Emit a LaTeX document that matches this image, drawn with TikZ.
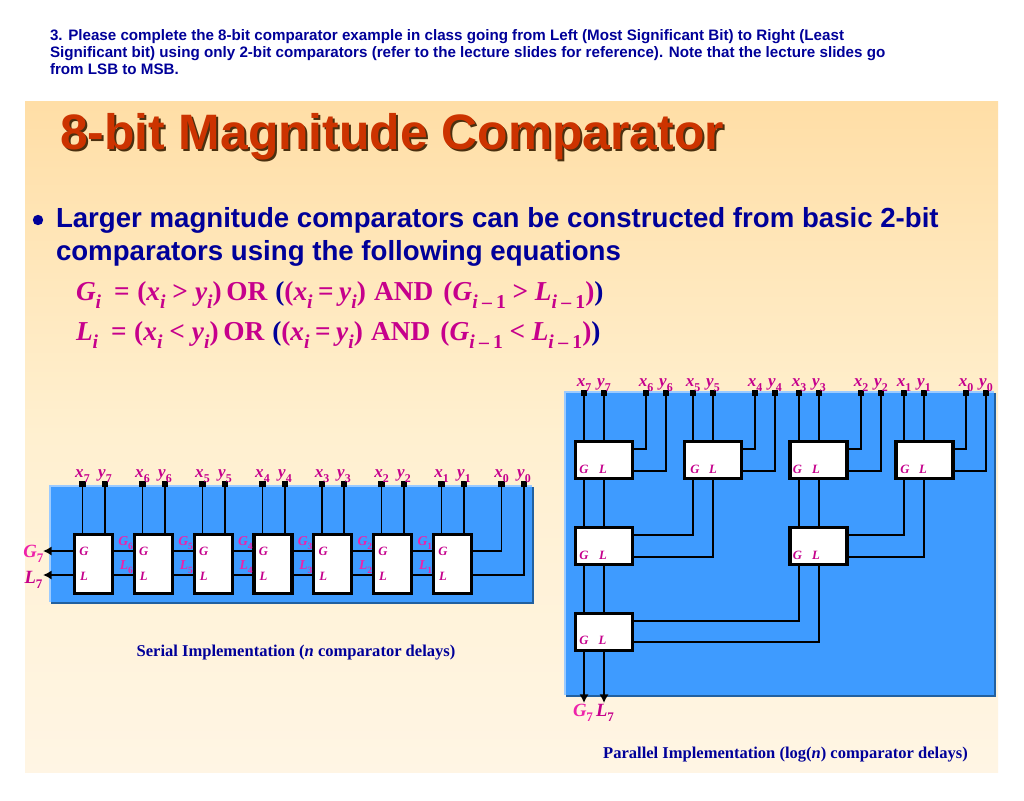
\documentclass[tikz,border=0pt]{standalone}
\usepackage{fontspec}
\setmainfont{Liberation Serif}
\setsansfont{Liberation Sans}
\usetikzlibrary{arrows.meta,shadings}
\definecolor{navy}{HTML}{000099}
\definecolor{mag}{HTML}{C6008C}
\definecolor{lmag}{HTML}{EE22AA}
\definecolor{panel}{HTML}{3E9BFF}
\definecolor{panelsh}{HTML}{22609F}
\definecolor{panellt}{HTML}{9CCBFF}
\definecolor{ttl}{HTML}{CC3300}
\definecolor{ttlsh}{HTML}{4A3010}
\definecolor{bgtop}{HTML}{FFDEA6}
\definecolor{bgmid}{HTML}{FFF0D0}
\definecolor{bgbot}{HTML}{FFF5E4}
\newcommand\sbx[1]{\raisebox{-.3em}{\scalebox{.7}{\upshape #1}}}
\newcommand\sbe[1]{\raisebox{-.3em}{\scalebox{.72}{#1}}}
\newcommand\fs[1]{\fontsize{#1}{#1}\selectfont}
\tikzset{
  x=0.75pt,y=-0.75pt,
  sertxt/.style={inner sep=0,outer sep=0,font=\bfseries\itshape,text=mag},
  pinlab/.style={sertxt,anchor=base,font=\fs{12.8}\bfseries\itshape},
  boxlab/.style={sertxt,font=\fs{9.5}\bfseries\itshape},
  midlab/.style={sertxt,text=lmag,font=\fs{10.2}\bfseries\itshape},
  outlab/.style={sertxt,font=\fs{14}\bfseries\itshape},
  pinbox/.style={fill=black,draw=none,minimum size=5.2pt,inner sep=0,outer sep=0},
  sbox/.style={draw=black,fill=white,line width=2.6pt,minimum width=28.5pt,minimum height=44pt,inner sep=0,outer sep=0},
  pbox/.style={draw=black,fill=white,line width=2.6pt,minimum width=43pt,minimum height=28pt,inner sep=0,outer sep=0},
  wire/.style={draw=black,line width=1.3pt},
  outwire/.style={wire,-{Latex[length=6.5pt,width=7pt]}},
  txt/.style={inner sep=0,outer sep=0,anchor=base west},
}
\begin{document}
\begin{tikzpicture}
\useasboundingbox (0,0) rectangle (1024,800);
\fill[white] (0,0) rectangle (1024,800);
% slide background
\shade[top color=bgtop,bottom color=bgbot,middle color=bgmid] (25,101) rectangle (998,772);
% question
\node[txt,font=\sffamily\bfseries\fs{11.37},text=navy] (q1) at (50,40) {3. Please complete the 8-bit comparator example in class going from Left (Most Significant Bit) to Right (Least};
\node[txt,font=\sffamily\bfseries\fs{11.37},text=navy] (q2) at (50,57) {Significant bit) using only 2-bit comparators (refer to the lecture slides for reference). Note that the lecture slides go};
\node[txt,font=\sffamily\bfseries\fs{11.37},text=navy] (q3) at (50,74) {from LSB to MSB.};
% title
\node[txt,font=\sffamily\bfseries\fs{37.35},text=ttlsh] (ts) at (62,151.3) {8-bit Magnitude Comparator};
\node[txt,font=\sffamily\bfseries\fs{37.35},text=ttl] (t) at (60,149.3) {8-bit Magnitude Comparator};
% bullet
\fill[navy] (38,220) circle[radius=3.9pt];
\node[txt,font=\sffamily\bfseries\fs{20.72},text=navy] (b1) at (56,227) {Larger magnitude comparators can be constructed from basic 2-bit};
\node[txt,font=\sffamily\bfseries\fs{20.72},text=navy] (b2) at (56,260) {comparators using the following equations};
% equations
\newcommand\imo{\textit{i}\hspace{.22em}{\upshape –}\hspace{.22em}{\upshape 1}}
\newcommand\eqn[2]{\textit{#1}\sbe{\textit{i}}\hspace{0.47em}=\hspace{0.28em}(\textit{x}\sbe{\textit{i}}\hspace{.255em}#2\hspace{.255em}\textit{y}\sbe{\textit{i}})\,OR\hspace{.29em}\textcolor{navy}{(}(\textit{x}\sbe{\textit{i}}\hspace{.2em}=\hspace{.2em}\textit{y}\sbe{\textit{i}})\hspace{.3em}AND\hspace{.37em}(\textit{G}\sbe{\imo}\hspace{.24em}#2\hspace{.24em}\textit{L}\sbe{\imo})\textcolor{navy}{)}}
\node[txt,font=\bfseries\fs{20.5},text=mag] (e1) at (76,300) {\eqn{G}{>}};
\node[txt,font=\bfseries\fs{20.5},text=mag] (e2) at (76,340) {\eqn{L}{<}};
% ---------- serial ----------
\fill[panelsh] (51,487) rectangle (534,604);
\fill[panellt] (49,485) rectangle (532,602);
\fill[panel] (50.5,486.5) rectangle (532,602);
\coordinate (gy) at (0,551);
\coordinate (ly) at (0,575);
\foreach \n/\c/\bi/\bx/\by in {1/93.5/7/82.5/105,2/153.3/6/142.5/165,3/213.3/5/202.5/225,4/273/4/262.5/285,5/332.7/3/322/344,6/392.5/2/381.5/404,7/452.5/1/441.5/464}{
  \node[sbox] (s\n) at (\c,564) {};
  \node[pinbox] (sx\bi) at (\bx,484) {};
  \node[pinbox] (sy\bi) at (\by,484) {};
  \draw[wire] (sx\bi) -- (sx\bi |- s\n.north);
  \draw[wire] (sy\bi) -- (sy\bi |- s\n.north);
  \node[boxlab] (sg\n) at (\c-9.5,551.5) {G};
  \node[boxlab] (sl\n) at (\c-9.5,576) {L};
  \node[pinlab] (slx\bi) at (\bx,477.5) {x\sbx{\bi}};
  \node[pinlab] (sly\bi) at (\by,477.5) {y\sbx{\bi}};
}
\node[pinbox] (sx0) at (501.5,484) {};
\node[pinbox] (sy0) at (524,484) {};
\node[pinlab] (slx0) at (501.5,477.5) {x\sbx{0}};
\node[pinlab] (sly0) at (524,477.5) {y\sbx{0}};
\foreach \a/\b/\k in {1/2/6,2/3/5,3/4/4,4/5/3,5/6/2,6/7/1}{
  \draw[wire] (s\a.east |- gy) -- (s\b.west |- gy);
  \draw[wire] (s\a.east |- ly) -- (s\b.west |- ly);
  \coordinate (mg) at (0,543);
  \coordinate (ml) at (0,567);
  \node[midlab,anchor=east,xshift=-1pt] (smg\k) at (s\b.west |- mg) {G\sbx{\k}};
  \node[midlab,anchor=east,xshift=-1pt] (sml\k) at (s\b.west |- ml) {L\sbx{\k}};
}
\draw[wire] (s7.east |- gy) -| (sx0);
\draw[wire] (s7.east |- ly) -| (sy0);
\coordinate (og) at (43,551);
\coordinate (ol) at (43,575);
\draw[outwire] (s1.west |- gy) -- (og);
\draw[outwire] (s1.west |- ly) -- (ol);
\node[outlab,text=lmag] (og7) at (33.5,554) {G\sbx{7}};
\node[outlab] (ol7) at (33.5,580) {L\sbx{7}};
\node[txt,anchor=base,font=\bfseries\fs{12.4},text=navy] (c1) at (296,656) {Serial Implementation (\textit{n} comparator delays)};
% ---------- parallel ----------
\fill[panelsh] (566,393) rectangle (995.5,697);
\fill[panellt] (564,391) rectangle (993.5,695);
\fill[panel] (565.5,392.5) rectangle (993.5,695);
\coordinate (h1) at (0,449);
\coordinate (h2) at (0,471);
\coordinate (h3) at (0,535);
\coordinate (h4) at (0,557);
\coordinate (h5) at (0,621);
\coordinate (h6) at (0,642);
\node[pbox] (p1) at (604,460) {};
\node[pbox] (p2) at (713,460) {};
\node[pbox] (p3) at (818.5,460) {};
\node[pbox] (p4) at (924.5,460) {};
\node[pbox] (p5) at (604,546) {};
\node[pbox] (p6) at (818.5,546) {};
\node[pbox] (p7) at (604,632) {};
\foreach \n/\xa/\ya/\i in {1/584/604/7,2/693/713/5,3/799/819/3,4/904/924/1}{
  \node[pinbox] (px\i) at (\xa,393) {};
  \node[pinbox] (py\i) at (\ya,393) {};
  \draw[wire] (px\i) -- (px\i |- p\n.north);
  \draw[wire] (py\i) -- (py\i |- p\n.north);
  \node[pinlab] (plx\i) at (\xa,386.5) {x\sbx{\i}};
  \node[pinlab] (ply\i) at (\ya,386.5) {y\sbx{\i}};
}
\foreach \n/\xa/\ya/\i in {1/646/666/6,2/755/775/4,3/861/881/2,4/966/986/0}{
  \node[pinbox] (px\i) at (\xa,393) {};
  \node[pinbox] (py\i) at (\ya,393) {};
  \draw[wire] (px\i) |- (p\n.east |- h1);
  \draw[wire] (py\i) |- (p\n.east |- h2);
  \node[pinlab] (plx\i) at (\xa,386.5) {x\sbx{\i}};
  \node[pinlab] (ply\i) at (\ya,386.5) {y\sbx{\i}};
}
\draw[wire] (p1.south -| px7) -- (p5.north -| px7);
\draw[wire] (p1.south -| py7) -- (p5.north -| py7);
\draw[wire] (p3.south -| px3) -- (p6.north -| px3);
\draw[wire] (p3.south -| py3) -- (p6.north -| py3);
\draw[wire] (p2.south -| px5) |- (p5.east |- h3);
\draw[wire] (p2.south -| py5) |- (p5.east |- h4);
\draw[wire] (p4.south -| px1) |- (p6.east |- h3);
\draw[wire] (p4.south -| py1) |- (p6.east |- h4);
\draw[wire] (p5.south -| px7) -- (p7.north -| px7);
\draw[wire] (p5.south -| py7) -- (p7.north -| py7);
\draw[wire] (p6.south -| px3) |- (p7.east |- h5);
\draw[wire] (p6.south -| py3) |- (p7.east |- h6);
\coordinate (ogp) at (584,703);
\coordinate (olp) at (604,703);
\draw[outwire] (p7.south -| px7) -- (ogp);
\draw[outwire] (p7.south -| py7) -- (olp);
\foreach \n/\yy/\gx/\lx in {a/469/584/603,b/469/695/713,c/469/797.5/816,d/469/905/923,e/555/584/603,f/555/797.5/816,g/640/584/602.5}{
  \node[boxlab] (pg\n) at (\gx,\yy) {G};
  \node[boxlab] (pl\n) at (\lx,\yy) {L};
}
\node[outlab,text=lmag] (ogl) at (583,713) {G\sbx{7}};
\node[outlab] (oll) at (605,713) {L\sbx{7}};
\node[txt,anchor=base,font=\bfseries\fs{12.4},text=navy] (c2) at (785.5,758) {Parallel Implementation (log(\textit{n}) comparator delays)};
\end{tikzpicture}
\end{document}
